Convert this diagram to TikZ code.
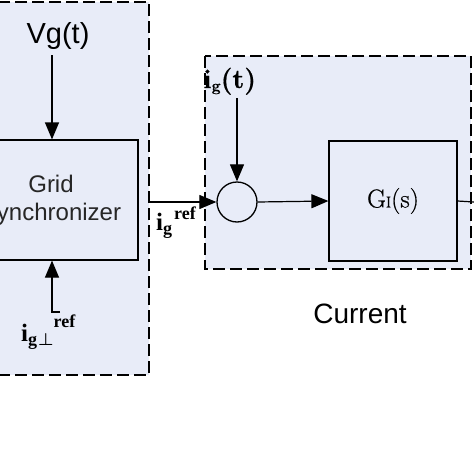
\documentclass[tikz,border=0pt]{standalone}
\usepackage{amsmath}
\usepackage{fontspec}
\setmainfont{Liberation Serif}
\setsansfont{Liberation Sans}
\newfontfamily\lmfont[FakeBold=0.6]{Latin Modern Roman}
\usetikzlibrary{arrows.meta}
\definecolor{bgc}{HTML}{E8ECF8}
\begin{document}
\begin{tikzpicture}[x=1pt,y=-1pt,
  grp/.style={draw=black, fill=bgc, line width=2.3pt, dash pattern=on 12pt off 5pt},
  blk/.style={draw=black, line width=1.2pt, fill=bgc, inner sep=0pt},
  arr/.style={line width=1.2pt, -{Triangle[length=17pt,width=14pt]}},
  ln/.style={line width=1.2pt},
  sanslab/.style={font=\sffamily\fontsize{29}{29}\selectfont, inner sep=0pt},
  serlab/.style={inner sep=0pt, anchor=base west}
]
\useasboundingbox (0,0) rectangle (474,474);
\clip (0,0) rectangle (474,474);
\fill[white] (0,0) rectangle (474,474);

% group boxes
\draw[grp] (-20,2) rectangle (149,375);
\draw[grp] (205,56) rectangle (471,269);

% synchronizer block
\node[blk, minimum width=178pt, minimum height=120pt,
      align=center, text=black!85,
      font=\sffamily\fontsize{24}{28}\selectfont] (sync) at (49,200)
      {\hspace*{4pt}Grid\\\hspace*{4pt}Synchronizer};

% Vg(t) input
\node[sanslab, anchor=base] (vg) at (58,43) {Vg(t)};
\coordinate (vgin) at (52,55);
\draw[arr] (vgin) -- (vgin |- sync.north);

% bottom input
\coordinate (pin) at (60,312);
\coordinate (pcorner) at (52,312);
\draw[arr] (pin) -- (pcorner) -- (pcorner |- sync.south);
\node[serlab] (iperp) at (21,341)
  {\bfseries\fontsize{25}{25}\selectfont i\raisebox{-4pt}{\fontsize{18}{18}\selectfont g\hspace{1pt}$\boldsymbol{\perp}$}\raisebox{14pt}{\fontsize{18}{18}\selectfont ref}};

% reference output
\coordinate (refout) at (149,202);
\node[draw=black, line width=1.3pt, fill=bgc, circle, minimum size=40pt, inner sep=0pt] (sum) at (237,202) {};
\draw[arr] (refout) -- (sum.west);
\node[serlab] (iref) at (156,230)
  {\bfseries\fontsize{25}{25}\selectfont i\raisebox{-4pt}{\fontsize{18}{18}\selectfont g}\hspace{2pt}\raisebox{11pt}{\fontsize{18}{18}\selectfont ref}};

% ig(t) input
\node[serlab] (igt) at (203,88)
  {\lmfont\bfseries\fontsize{27}{27}\selectfont i\raisebox{-3pt}{\fontsize{16}{16}\selectfont g}(t)};
\coordinate (igin) at (237,98);
\draw[arr] (igin) -- (sum.north);

% Gi(s) block
\node[blk, minimum width=128pt, minimum height=120pt,
      font=\lmfont\fontsize{26}{26}\selectfont] (gi) at (393,201)
      {G\raisebox{0pt}{\fontsize{16}{16}\selectfont I}(s)};
\draw[arr] (sum.east) -- (gi.west);
\coordinate (out) at (474,202);
\draw[ln] (gi.east) -- (out);

% caption
\node[font=\sffamily\fontsize{28}{28}\selectfont, anchor=base, inner sep=0pt] (cur) at (360,323) {Current};
\end{tikzpicture}
\end{document}
